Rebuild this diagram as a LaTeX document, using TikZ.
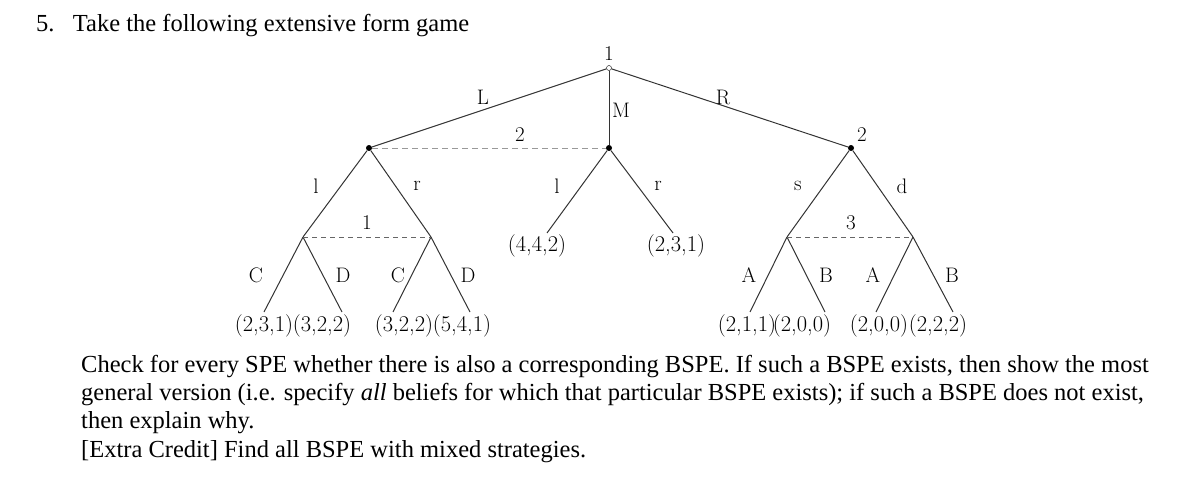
\documentclass[tikz,border=0pt]{standalone}
\usepackage{fontspec}
\newfontfamily\tnr{Liberation Serif}
\begin{document}
\begin{tikzpicture}[x=1pt,y=-1pt,
  dec/.style={circle,fill=black,inner sep=0pt,minimum size=6pt},
  edge/.style={draw=black!80,line width=1pt},
  info/.style={draw=black!40,line width=1pt,dash pattern=on 6pt off 4pt},
  lab/.style={font=\fontsize{21}{21}\selectfont},
  pay/.style={font=\fontsize{22.5}{22.5}\selectfont},
  body/.style={font=\tnr\fontsize{24.5}{28}\selectfont,anchor=west,inner sep=0pt}]
\useasboundingbox (0,0) rectangle (1188,484);
\node[body] (t0) at (36,26) {5.\hspace{0.75em}Take the following extensive form game};
\node[circle,draw,inner sep=0pt,minimum size=5pt] (root) at (609,68) {};
\node[lab] (p1) at (609,54) {1};
\node[dec] (nL) at (369,148) {};
\node[dec] (nM) at (609,148) {};
\node[dec] (nR) at (851,148) {};
\node[dec,minimum size=0pt] (nl) at (303,237) {};
\node[dec,minimum size=0pt] (nr) at (431,237) {};
\node[dec,minimum size=0pt] (ns) at (787,237) {};
\node[dec,minimum size=0pt] (nd) at (913,237) {};
\foreach \n/\x/\y in {a/264/312,b/342/312,c/393/312,d/470/312,e/547/233,f/673/233,g/750/312,h/825/312,i/876/312,j/953/312}
  \coordinate (\n) at (\x,\y);
\draw[edge] (root) -- (nL); \draw[edge] (root) -- (nM); \draw[edge] (root) -- (nR);
\draw[edge] (nL) -- (nl); \draw[edge] (nL) -- (nr);
\draw[edge] (nM) -- (e); \draw[edge] (nM) -- (f);
\draw[edge] (nR) -- (ns); \draw[edge] (nR) -- (nd);
\draw[edge] (nl) -- (a); \draw[edge] (nl) -- (b); \draw[edge] (nr) -- (c); \draw[edge] (nr) -- (d);
\draw[edge] (ns) -- (g); \draw[edge] (ns) -- (h); \draw[edge] (nd) -- (i); \draw[edge] (nd) -- (j);
\draw[info] (nL) -- (nM);
\draw[info,draw=black!60,dash pattern=on 5pt off 4pt] (nl) -- (nr);
\draw[info,draw=black!60,dash pattern=on 5pt off 4pt] (ns) -- (nd);
\node[lab] at (483,97) {L};
\node[lab] at (621,110) {M};
\node[lab] at (723,97) {R};
\node[lab] at (520,135) {2};
\node[lab] at (862,135) {2};
\node[lab] at (367,223) {1};
\node[lab] at (851,223) {3};
\node[lab] at (316,186) {l};
\node[lab] at (417,186) {r};
\node[lab] at (557,186) {l};
\node[lab] at (658,186) {r};
\node[lab] at (798,186) {s};
\node[lab] at (902,186) {d};
\node[lab] at (256,275) {C};
\node[lab] at (343,275) {D};
\node[lab] at (398,275) {C};
\node[lab] at (468,275) {D};
\node[lab] at (749,275) {A};
\node[lab] at (826,275) {B};
\node[lab] at (873,275) {A};
\node[lab] at (952,275) {B};
\node[pay] at (264,326) {(2,3,1)};
\node[pay] at (322,326) {(3,2,2)};
\node[pay] at (404,326) {(3,2,2)};
\node[pay] at (462,326) {(5,4,1)};
\node[pay] at (537,246) {(4,4,2)};
\node[pay] at (676,246) {(2,3,1)};
\node[pay] at (747,326) {(2,1,1)};
\node[pay] at (802,326) {(2,0,0)};
\node[pay] at (879,326) {(2,0,0)};
\node[pay] at (938,326) {(2,2,2)};
\node[body] (t1) at (81,367) {Check for every SPE whether there is also a corresponding BSPE. If such a BSPE exists, then show the most};
\node[body] (t2) at (81,395) {general version (i.e. specify \textit{all} beliefs for which that particular BSPE exists); if such a BSPE does not exist,};
\node[body] (t3) at (81,423) {then explain why.};
\node[body] (t4) at (81,452) {[Extra Credit] Find all BSPE with mixed strategies.};
\end{tikzpicture}
\end{document}
